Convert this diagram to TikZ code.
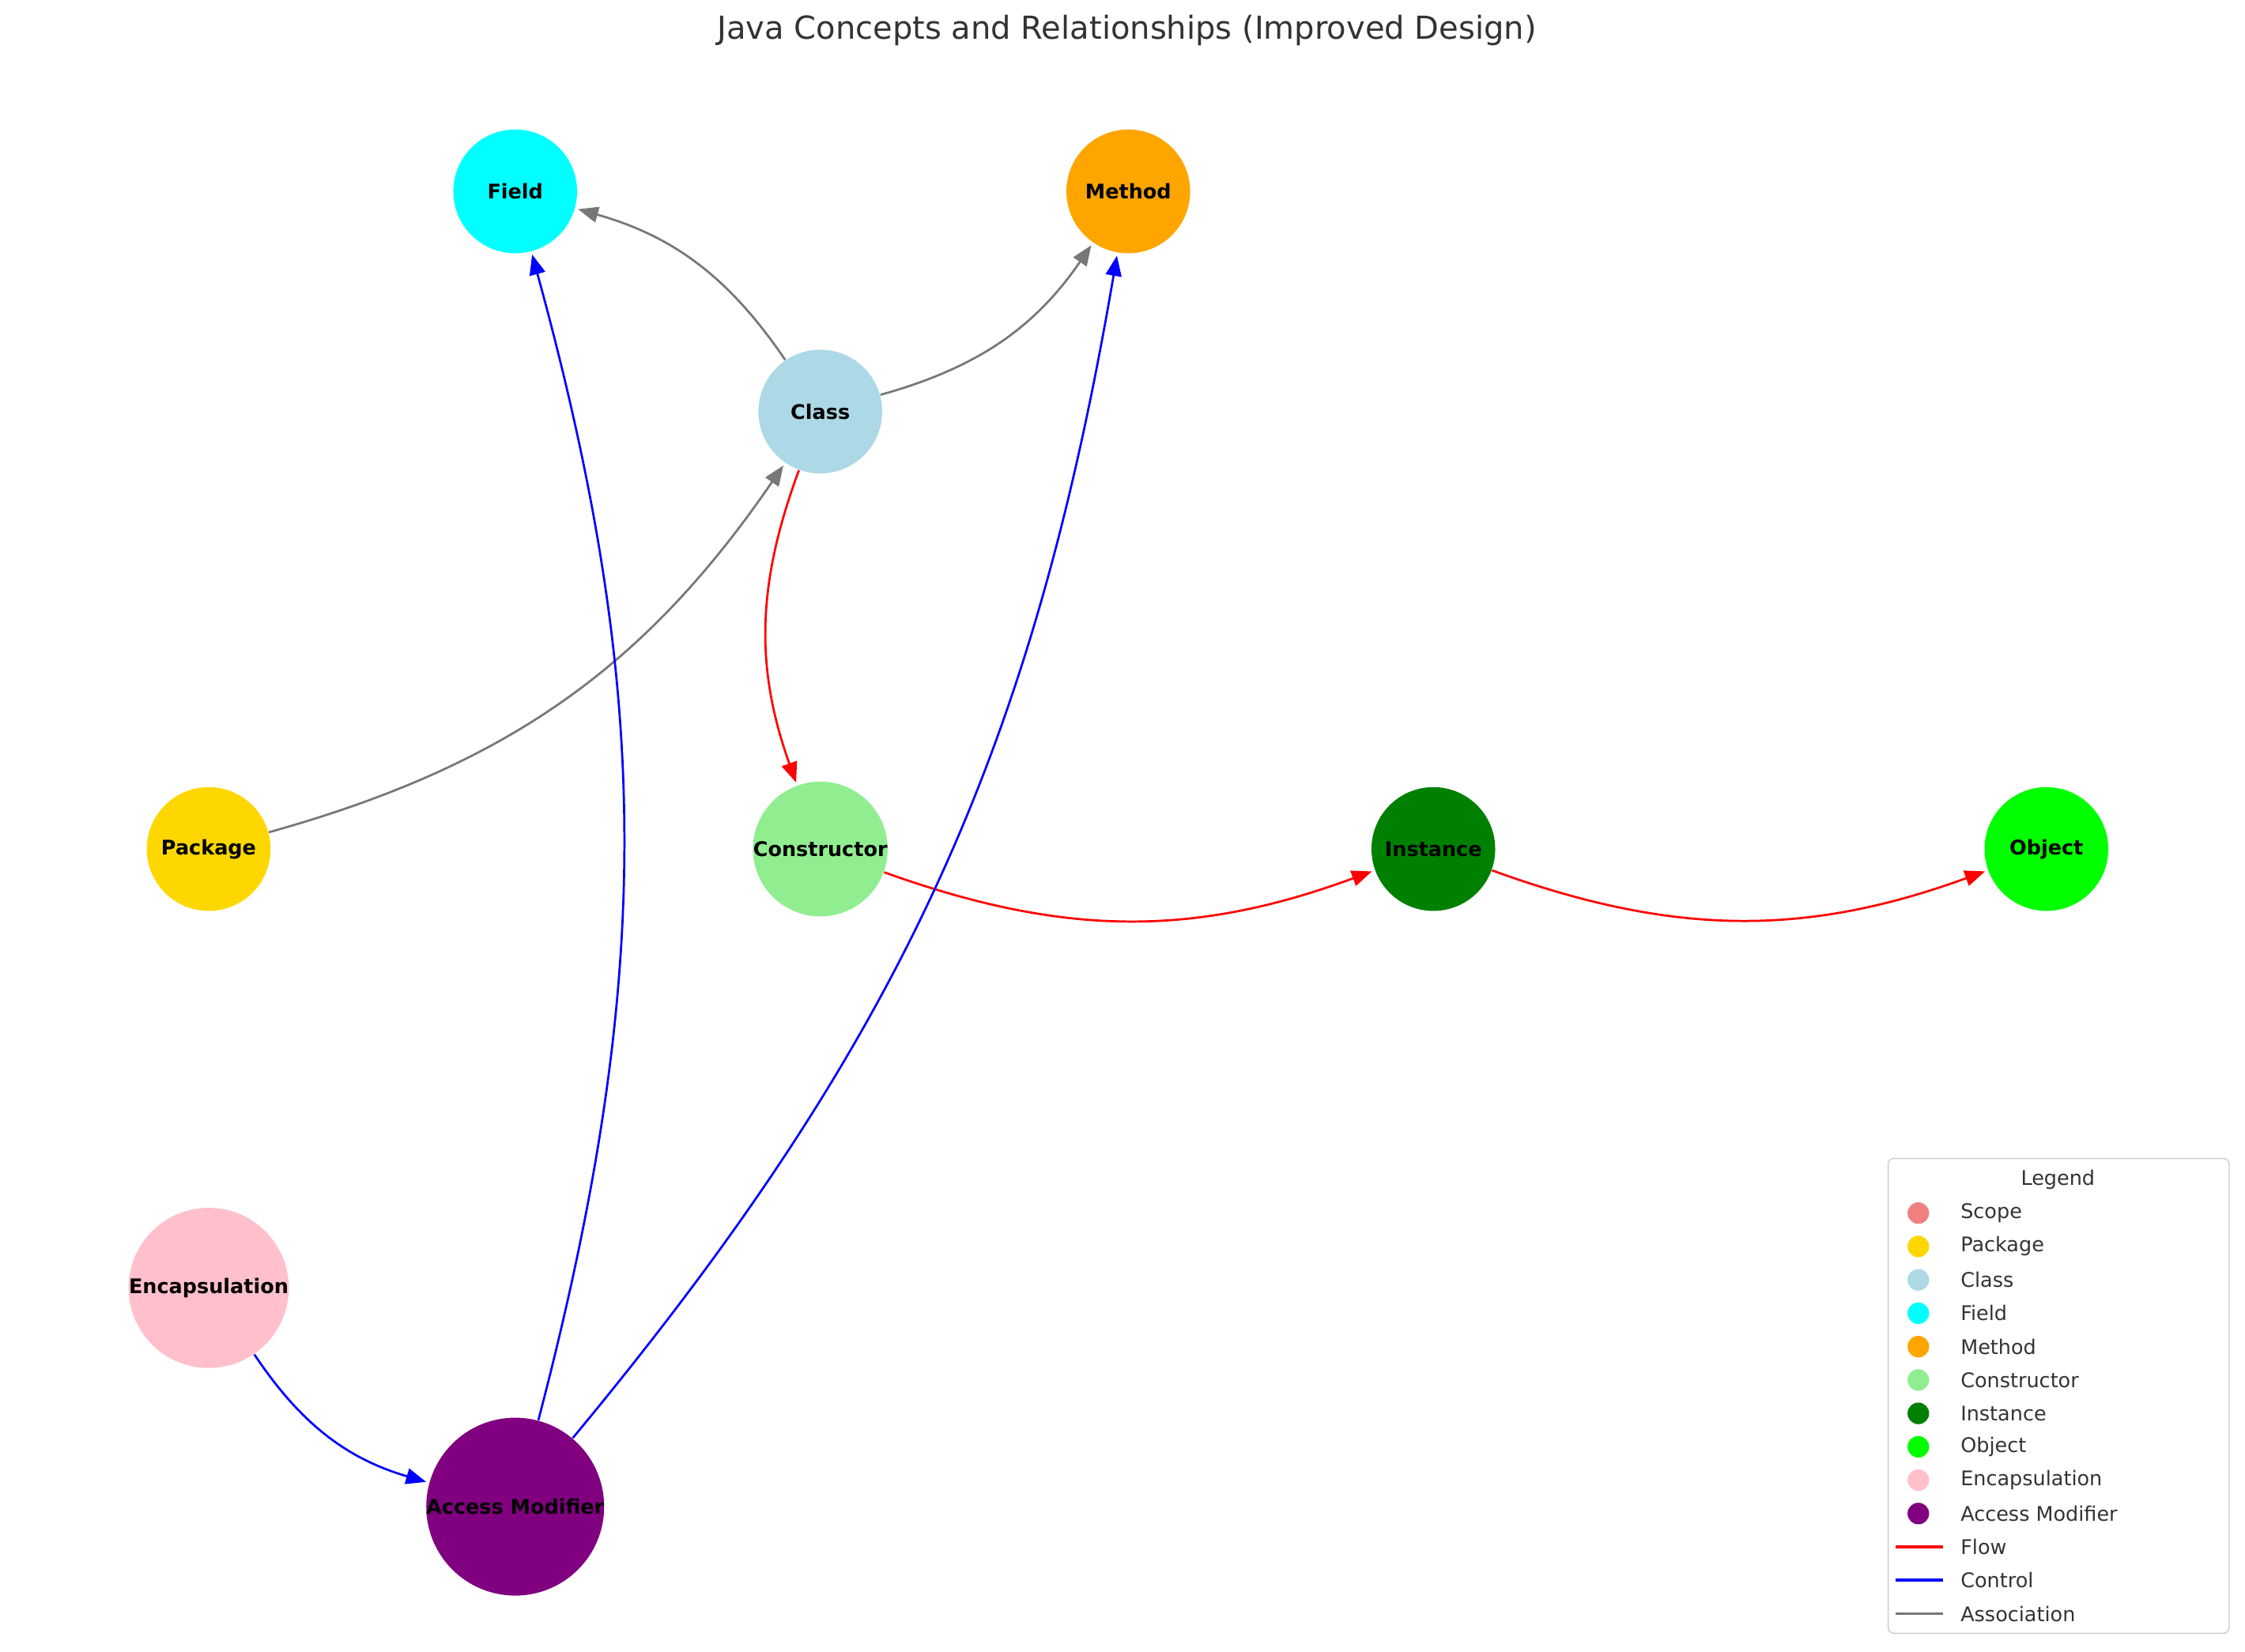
\documentclass[tikz,border=0pt]{standalone}
\usepackage{fontspec}
\setmainfont{DejaVu Sans}
\usetikzlibrary{arrows.meta}
\definecolor{cscope}{HTML}{F08080}
\definecolor{cpack}{HTML}{FFD700}
\definecolor{cclass}{HTML}{ADD8E6}
\definecolor{cfield}{HTML}{00FFFF}
\definecolor{cmeth}{HTML}{FFA500}
\definecolor{ccons}{HTML}{90EE90}
\definecolor{cinst}{HTML}{008000}
\definecolor{cobj}{HTML}{00FF00}
\definecolor{cenc}{HTML}{FFC0CB}
\definecolor{cam}{HTML}{800080}
\definecolor{cgray}{HTML}{777777}
\tikzset{
  concept/.style={circle,fill=#1,minimum size=43pt,inner sep=0pt,font=\fontsize{7}{8}\selectfont\bfseries,text=black},
  edge/.style={draw=#1,line width=0.75pt,-{Stealth[length=7pt,width=5.5pt,inset=0pt]},bend right=20,shorten >=1pt},
  legdot/.style={circle,fill=#1,minimum size=7.5pt,inner sep=0pt},
  legtext/.style={anchor=west,font=\fontsize{7}{8}\selectfont,text=black!80,inner sep=0pt}
}
\begin{document}
\begin{tikzpicture}[x=0.5pt,y=-0.5pt]
\useasboundingbox (0,0) rectangle (1560,1148);
\node[font=\fontsize{11}{13}\selectfont,text=black!80] (title) at (783,21) {Java Concepts and Relationships (Improved Design)};
\node[concept=cfield] (field) at (358,133) {Field};
\node[concept=cmeth] (method) at (784,133) {Method};
\node[concept=cclass] (class) at (570,286) {Class};
\node[concept=cpack] (pack) at (145,590) {Package};
\node[concept=ccons] (cons) at (570,590) {Constructor};
\node[concept=cinst] (inst) at (996,590) {Instance};
\node[concept=cobj] (obj) at (1422,590) {Object};
\node[concept=cenc] (enc) at (145,895) {Encapsulation};
\node[concept=cam] (am) at (358,1047) {Access Modifier};
\draw[edge=cgray] (class) to (field);
\draw[edge=cgray] (class) to (method);
\draw[edge=cgray] (pack) to (class);
\draw[edge=red] (class) to (cons);
\draw[edge=red] (cons) to (inst);
\draw[edge=red] (inst) to (obj);
\draw[edge=blue] (enc) to (am);
\draw[edge=blue,bend right=15] (am) to (field);
\draw[edge=blue,bend right=15] (am) to (method);
% legend
\draw[draw=black!20,fill=white,rounded corners=2pt] (1312,805) rectangle (1549,1135);
\node[font=\fontsize{7}{8}\selectfont,text=black!80] (legtitle) at (1430,820) {Legend};
\foreach \c/\t [count=\i from 0] in {cscope/Scope,cpack/Package,cclass/Class,cfield/Field,cmeth/Method,ccons/Constructor,cinst/Instance,cobj/Object,cenc/Encapsulation,cam/Access Modifier}{
  \node[legdot=\c] (ld\i) at (1333,{843+23.2*\i}) {};
  \node[legtext] (lt\i) at (1362,{843+23.2*\i}) {\t};
}
\foreach \c/\t [count=\i from 10] in {red/Flow/Initialization,blue/Control/Implementation,cgray/Association}{
  \coordinate (la\i) at (1317,{843+23.2*\i});
  \coordinate (lb\i) at (1350,{843+23.2*\i});
  \draw[\c,line width=1pt] (la\i) -- (lb\i);
  \node[legtext] (lt\i) at (1362,{843+23.2*\i}) {\t};
}
\end{tikzpicture}
\end{document}
